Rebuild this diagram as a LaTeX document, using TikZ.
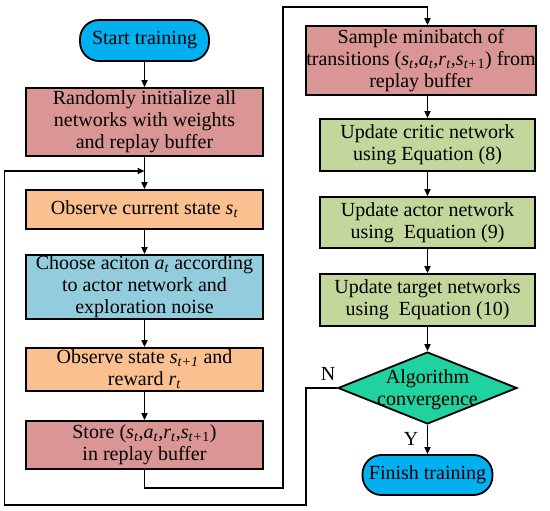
\documentclass[tikz,border=0pt]{standalone}
\usepackage{fontspec}
\setmainfont{Liberation Serif}
\usetikzlibrary{shapes.geometric,arrows.meta}
\definecolor{cblue}{HTML}{00B0F0}
\definecolor{cred}{HTML}{D99694}
\definecolor{corange}{HTML}{FAC090}
\definecolor{clblue}{HTML}{93CDDD}
\definecolor{cgreen}{HTML}{C3D69B}
\definecolor{cteal}{HTML}{20D2A0}
\newcommand\vv[2]{\textit{#1}\textsubscript{\textit{#2}}}
\begin{document}
\begin{tikzpicture}[x=1pt,y=-1pt,
  every node/.style={font=\fontsize{20}{22}\selectfont},
  box/.style={draw=black,line width=1.8pt,align=center,inner sep=0pt},
  term/.style={box,fill=cblue,rounded corners=19pt},
  flow/.style={line width=1.8pt,-{Triangle[length=7pt,width=6pt]}}]
\useasboundingbox (0,0) rectangle (550,511);
\node[term,minimum width=129pt,minimum height=41pt] (start) at (144.5,40.5) {Start training};
\node[box,fill=cred,minimum width=237pt,minimum height=68pt] (init) at (144.5,122) {Randomly initialize all\\networks with weights\\and replay buffer};
\node[box,fill=corange,minimum width=237pt,minimum height=39pt] (obs) at (144.5,209.5) {Observe current state \vv{s}{t}};
\node[box,fill=clblue,minimum width=237pt,minimum height=64pt] (choose) at (144.5,287) {Choose aciton \vv{a}{t} according\\to actor network and\\exploration noise};
\node[box,fill=corange,minimum width=237pt,minimum height=43pt] (obs2) at (144.5,369.5) {Observe state \vv{s}{t+1} and\\reward \vv{r}{t}};
\node[box,fill=cred,minimum width=237pt,minimum height=48pt] (store) at (144.5,445) {Store (\vv{s}{t},\vv{a}{t},\vv{r}{t},\vv{s}{t+}\textsubscript{1})\\in replay buffer};
\node[box,fill=cred,minimum width=230pt,minimum height=69pt] (sample) at (421,60.5) {Sample minibatch of\\transitions (\vv{s}{t},\vv{a}{t},\vv{r}{t},\vv{s}{t+}\textsubscript{1}) from\\replay buffer};
\node[box,fill=cgreen,minimum width=215pt,minimum height=52pt] (critic) at (427.5,145) {Update critic network\\using Equation (8)};
\node[box,fill=cgreen,minimum width=215pt,minimum height=51pt] (actor) at (427.5,222.5) {Update actor network\\using\ \ Equation (9)};
\node[box,fill=cgreen,minimum width=215pt,minimum height=52pt] (target) at (427.5,300) {Update target networks\\using\ \ Equation (10)};
\node[diamond,draw=black,line width=1.8pt,fill=cteal,minimum width=179pt,minimum height=72pt,inner sep=0pt] (dec) at (427.5,388) {};
\node[align=center,inner sep=0pt] (dectext) at (427.5,390) {Algorithm\\convergence};
\node[term,minimum width=130pt,minimum height=40pt] (finish) at (427.5,475) {Finish training};
\node (nlab) at (328,374) {N};
\node (ylab) at (411,439) {Y};
\coordinate (j1) at (144.5,171);
\coordinate (a1) at (144.5,488);
\coordinate (a2) at (283,488);
\coordinate (a3) at (283,7);
\coordinate (a4) at (427.5,7);
\coordinate (b1) at (306,388);
\coordinate (b2) at (306,505);
\coordinate (b3) at (4.5,505);
\coordinate (b4) at (4.5,171);
\draw[flow] (start) -- (init);
\draw[flow] (init) -- (obs);
\draw[flow] (obs) -- (choose);
\draw[flow] (choose) -- (obs2);
\draw[flow] (obs2) -- (store);
\draw[flow] (store.south) -- (a1) -- (a2) -- (a3) -- (a4) -- (sample.north -| a4);
\draw[flow] (sample.south -| critic.north) -- (critic.north);
\draw[flow] (critic) -- (actor);
\draw[flow] (actor) -- (target);
\draw[flow] (target) -- (dec.north);
\draw[flow] (dec.south) -- (finish);
\draw[flow] (dec.west) -- (b1) -- (b2) -- (b3) -- (b4) -- (j1);
\end{tikzpicture}
\end{document}
